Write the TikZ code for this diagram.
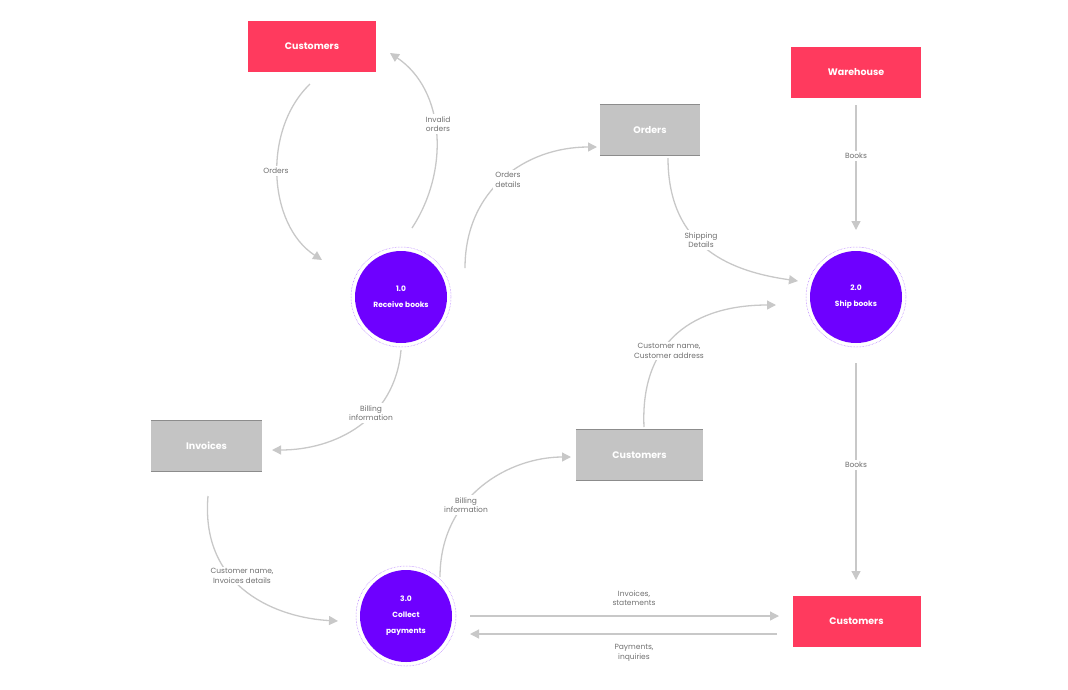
\documentclass[tikz,border=0pt]{standalone}
\usepackage{fontspec}
\setmainfont{Poppins}
\usetikzlibrary{arrows.meta}
\definecolor{ext}{HTML}{FF3A5E}
\definecolor{proc}{HTML}{6E00FF}
\definecolor{store}{HTML}{C4C4C4}
\definecolor{storeline}{HTML}{8C8C8C}
\definecolor{flow}{HTML}{C8C8C8}
\definecolor{lbl}{HTML}{707070}
\begin{document}
\begin{tikzpicture}[x=1pt,y=-1pt,
  ext/.style={fill=ext,minimum width=128pt,minimum height=51pt,text=white,font=\fontsize{9.5}{11}\selectfont\bfseries},
  store/.style={fill=store,text=white,font=\fontsize{9.5}{11}\selectfont\bfseries,minimum height=51pt},
  proc/.style={circle,fill=proc,minimum size=92pt,text=white,align=center,font=\fontsize{7.5}{16}\selectfont\bfseries},
  halo/.style={circle,draw=proc!60,densely dotted,line width=0.5pt,minimum size=100pt},
  flow/.style={draw=flow,line width=1.3pt,-{Triangle[length=9pt,width=9pt]}},
  lab/.style={fill=white,text=lbl,align=center,font=\fontsize{7.5}{9.5}\selectfont,inner sep=2pt}]
\useasboundingbox (0,0) rectangle (1068,689);
% external entities
\node[ext] (cT) at (312,46.5) {Customers};
\node[ext,minimum width=130pt] (wh) at (856,72.5) {Warehouse};
\node[ext] (cB) at (856.5,621.5) {Customers};
% data stores
\newcommand{\dstore}[4]{%
  \node[store,minimum width=#3pt] (#1) at (#2) {#4};
  \draw[storeline,line width=1.2pt] (#1.north west) -- (#1.north east);
  \draw[storeline,line width=1.2pt] (#1.south west) -- (#1.south east);}
\dstore{ord}{650,130}{100}{Orders}
\dstore{inv}{206.5,446}{111}{Invoices}
\dstore{cS}{639.5,455}{127}{Customers}
% processes
\foreach \n/\p/\t in {p1/{401,297}/{1.0\\Receive books},p2/{856,297}/{2.0\\Ship books},p3/{406,616}/{3.0\\Collect\\payments}}{
  \node[halo] at (\p) {};
  \node[proc] (\n) at (\p) {\t};
}
% connector ends
\coordinate (a1) at (310,84); \coordinate (a2) at (322,260);
\coordinate (b1) at (412,228); \coordinate (b2) at (390,53);
\coordinate (c1) at (465,268); \coordinate (c2) at (597,147);
\coordinate (d1) at (668,158); \coordinate (d2) at (798,281);
\coordinate (e1) at (644,427); \coordinate (e2) at (776,305);
\coordinate (f1) at (856,105); \coordinate (f2) at (856,230);
\coordinate (g1) at (856,363); \coordinate (g2) at (856,580);
\coordinate (h1) at (401,350); \coordinate (h2) at (272,450);
\coordinate (i1) at (208,496); \coordinate (i2) at (338,621);
\coordinate (j1) at (440,577); \coordinate (j2) at (571,457);
\coordinate (k1) at (470,616); \coordinate (k2) at (779,616);
\coordinate (l1) at (777,634); \coordinate (l2) at (470,634);
% flows
\draw[flow] (a1) .. controls (262,130) and (268,225) .. (a2);
\node[lab] at (276,171) {Orders};
\draw[flow] (b1) .. controls (450,170) and (445,90) .. (b2);
\node[lab] at (438,124) {Invalid\\orders};
\draw[flow] (c1) .. controls (465,190) and (525,147) .. (c2);
\node[lab] at (508,180) {Orders\\details};
\draw[flow] (d1) .. controls (668,250) and (735,272) .. (d2);
\node[lab] at (701,240) {Shipping\\Details};
\draw[flow] (e1) .. controls (640,340) and (695,305) .. (e2);
\node[lab] at (669,351) {Customer name,\\Customer address};
\draw[flow] (f1) -- (f2);
\node[lab] at (856,156) {Books};
\draw[flow] (g1) -- (g2);
\node[lab] at (856,465) {Books};
\draw[flow] (h1) .. controls (395,420) and (335,450) .. (h2);
\node[lab] at (371,413) {Billing\\information};
\draw[flow] (i1) .. controls (200,590) and (280,618) .. (i2);
\node[lab] at (242,576) {Customer name,\\Invoices details};
\draw[flow] (j1) .. controls (440,495) and (510,457) .. (j2);
\node[lab] at (466,505) {Billing\\information};
\draw[flow] (k1) -- (k2);
\node[lab,fill=none] at (634,598) {Invoices,\\statements};
\draw[flow] (l1) -- (l2);
\node[lab,fill=none] at (634,653) {Payments,\\inquiries};
\end{tikzpicture}
\end{document}
